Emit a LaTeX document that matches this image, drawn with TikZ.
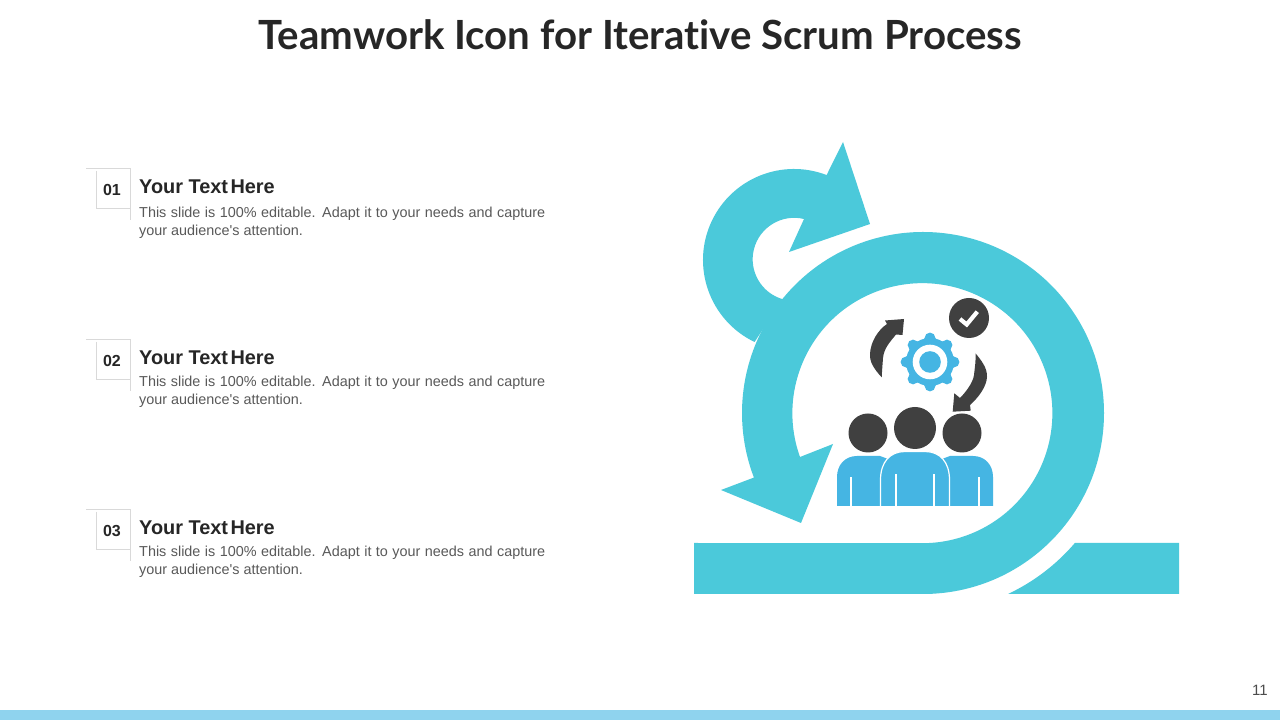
\documentclass[tikz,border=0pt]{standalone}
\usepackage{fontspec}
\setmainfont{Liberation Sans}
\newfontfamily\titlefont{Lato}
\newfontfamily\plainfont{Liberation Sans}
\definecolor{teal}{HTML}{4BC9DA}
\definecolor{sky}{HTML}{45B5E3}
\definecolor{dark}{HTML}{404040}
\definecolor{strip}{HTML}{8FD3EE}
\definecolor{boxline}{HTML}{D9D9D9}
\tikzset{
  ringpart/.style={fill=teal,draw=none},
  body/.style={fill=sky,draw=none},
  darkpart/.style={fill=dark,draw=none},
  numline/.style={draw=boxline,line width=.8pt},
  numtext/.style={font=\bfseries\fontsize{16}{18}\selectfont,text=black!85,anchor=center},
  headtext/.style={font=\bfseries\fontsize{19.9}{22}\selectfont,text=black!85,anchor=west,inner sep=0},
  bodytext/.style={font=\plainfont\fontsize{14.4}{18}\selectfont,text=black!65,anchor=north west,inner sep=0,align=justify,text width=406pt},
  slit/.style={draw=white,line width=1.6pt}
}
\begin{document}
\begin{tikzpicture}[x=1pt,y=1pt]
\useasboundingbox (0,0) rectangle (1280,720);
\fill[white] (0,0) rectangle (1280,720);
\fill[strip] (0,0) rectangle (1280,10);
\node[font=\titlefont\bfseries\fontsize{40.2}{44}\selectfont,text=black!85,inner sep=0] (title) at (640,685) {Teamwork Icon for Iterat\kern0pt ive Scrum Process};
\node[font=\fontsize{15}{16}\selectfont,text=black!70,inner sep=0] (page) at (1260,30) {11};
% list
\foreach \y/\n in {0/01,171/02,341/03}{
  \begin{scope}[yshift=-\y pt]
    \draw[numline] (86,552) -- (130.5,552) -- (130.5,500);
    \draw[numline] (96.5,549) -- (96.5,512) -- (130.5,512);
    \node[numtext] (n\n) at (112,529.7) {\n};
    \node[headtext] (h\n) at (139,533.6) {Your Text\hspace{2.5pt}Here};
  \end{scope}
}
\foreach \y in {513,344,174}{
  \node[bodytext] at (139,\y) {This slide is 100\% editable. Adapt it to your needs and capture your audience's attention.};
}
% small arrow
\begin{scope}[shift={(794,460)}]
\fill[ringpart] (244.3:91) arc[start angle=244.3,end angle=69,radius=91]
  -- (49,118) -- (76,36) -- (-5,8) -- (10,41)
  arc[start angle=76.3,end angle=253.9,radius=41.5] -- cycle;
\end{scope}
% big ring
\fill[ringpart] (694,126) -- (923,126) arc[start angle=-90,end angle=200.9,radius=181]
  -- (721,230) -- (801,197) -- (833,276) -- (800,263)
  arc[start angle=199.7,end angle=-90,radius=130] -- (694,177) -- cycle;
\fill[ringpart] (1008,126) arc[start angle=-64.8,end angle=-40.5,radius=200] -- (1179,177) -- (1179,126) -- cycle;
% people
\fill[body] (837,214) -- (837,243) .. controls (837,255) and (845,264) .. (857,264) -- (880,264) -- (888,261) -- (895,240) -- (895,214) -- cycle;
\fill[body] (993,214) -- (993,243) .. controls (993,255) and (985,264) .. (973,264) -- (950,264) -- (942,261) -- (935,240) -- (935,214) -- cycle;
\fill[body,draw=white,line width=1.2pt] (880.5,214) -- (880.5,240) .. controls (880.5,258) and (890,268.5) .. (905,268.5) -- (925,268.5) .. controls (940,268.5) and (949.5,258) .. (949.5,240) -- (949.5,214);
\fill[white] (879,212.5) rectangle (951,214);
\draw[slit] (851,214) -- (851,243);
\draw[slit] (896,214) -- (896,246);
\draw[slit] (934,214) -- (934,246);
\draw[slit] (979,214) -- (979,243);
\fill[darkpart] (868,287) circle[radius=19.5];
\fill[darkpart] (915,292) circle[radius=21];
\fill[darkpart] (962,287) circle[radius=19.5];
% gear
\begin{scope}[shift={(930,358)}]
\foreach \a in {0,45,...,315}{
  \fill[sky,rotate=\a] (18,-8.5) -- (24,-5.4) arc[start angle=-90,end angle=90,radius=5.4] -- (18,8.5) -- cycle;
}
\fill[sky] (0,0) circle[radius=24];
\fill[white] (0,0) circle[radius=17.3];
\fill[sky] (0,0) circle[radius=10.8];
\end{scope}
% check
\fill[darkpart] (969,402) circle[radius=20];
\draw[white,line width=4.2pt] (960,401) -- (966.7,395.5) -- (977.3,408.3);
% dark arrows
\fill[darkpart] (881.7,342.7) .. controls (874,351) and (869.5,358) .. (870,366) .. controls (870.5,378) and (878,390) .. (887,396) -- (885,399.5) -- (904,401) -- (902.5,385) -- (896,385.5) .. controls (890,378) and (884,372) .. (883,362) .. controls (882.5,355) and (882,349) .. cycle;
\fill[darkpart] (975.5,366.7) .. controls (981,360) and (987.5,352) .. (987,343) .. controls (986.5,333) and (978,322) .. (970,315) -- (970.7,309.3) -- (952.7,308.3) -- (954.3,326.7) -- (960,322) .. controls (965,327) and (973,337) .. (974,345) .. controls (975,354) and (976,360) .. cycle;
\end{tikzpicture}
\end{document}
